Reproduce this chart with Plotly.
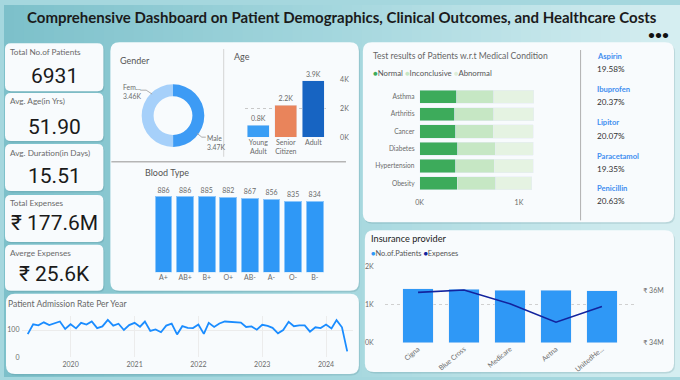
import plotly.graph_objects as go
import pandas as pd

W, H = 680, 380
def X(px): return px / W
def Y(py): return 1 - py / H

# ---------------- data ----------------
kpi_labels = ["Total No.of Patients", "Avg. Age(in Yrs)", "Avg. Duration(in Days)", "Total Expenses", "Averge Expenses"]
kpi_values = ["6931", "51.90", "15.51", "₹ 177.6M", "₹ 25.6K"]

gender_labels = ["Female", "Male"]
gender_counts = [3462, 3469]

age_groups = ["Young<br>Adult", "Senior<br>Citizen", "Adult"]
age_counts = [814, 2205, 3912]

blood_types = ["A+", "AB+", "B+", "O+", "AB-", "A-", "O-", "B-"]
blood_counts = [886, 886, 885, 882, 867, 856, 835, 834]

conditions = ["Asthma", "Arthritis", "Cancer", "Diabetes", "Hypertension", "Obesity"]
normal = [376, 352, 366, 383, 366, 379]
inconclusive = [372, 396, 376, 379, 386, 386]
abnormal = [403, 403, 402, 382, 392, 366]

medications = ["Aspirin", "Ibuprofen", "Lipitor", "Paracetamol", "Penicillin"]
med_share = [19.58, 20.37, 20.07, 19.35, 20.63]

insurers = ["Cigna", "Blue Cross", "Medicare", "Aetna", "UnitedHe..."]
ins_patients = [1410, 1405, 1380, 1370, 1366]
ins_expenses = [35.94e6, 36.03e6, 35.50e6, 34.79e6, 35.40e6]

months = pd.date_range("2019-05-01", periods=61, freq="MS")
admissions = [85, 121, 117, 128, 118, 124, 131, 104,
              121, 106, 126, 120, 131, 107, 113, 137, 116, 123, 100, 118,
              126, 112, 131, 97, 102, 92, 116, 123, 84, 114, 108, 107,
              120, 86, 126, 111, 124, 131, 129, 128, 127, 111, 113, 101,
              119, 115, 108, 88, 100, 130, 114, 117, 117, 94, 110, 107,
              120, 106, 136, 110, 22]
year_ticks = ["2020", "2021", "2022", "2023", "2024"]

# ---------------- styles ----------------
FONT = "Lato"
BLUE = "#2f98f6"
GRAY = "#6b6b6b"

fig = go.Figure()

# Gender donut
fig.add_trace(go.Pie(labels=gender_labels, values=gender_counts, hole=0.62, sort=False,
                     direction="counterclockwise", rotation=0, textinfo="none",
                     marker=dict(colors=["#3d9bf5", "#a6d0fa"]), showlegend=False,
                     domain=dict(x=[X(138), X(202)], y=[Y(145), Y(81)]), hoverinfo="label+value"))

# Age bars
fig.add_trace(go.Bar(x=age_groups, y=age_counts, xaxis="x", yaxis="y", width=0.8,
                     marker=dict(color=["#3a9ef5", "#e9845b", "#1764c2"]),
                     text=[f"{v/1000:.1f}K" for v in age_counts], textposition="outside",
                     textfont=dict(size=7, color=GRAY), cliponaxis=False, showlegend=False))

# Blood type bars
fig.add_trace(go.Bar(x=blood_types, y=blood_counts, xaxis="x2", yaxis="y2", width=0.78,
                     marker=dict(color=BLUE, line=dict(color="#8cc6fb", width=1)),
                     text=blood_counts, textposition="outside",
                     textfont=dict(size=7, color=GRAY), cliponaxis=False, showlegend=False))

# Test results stacked bars
for name, vals, col in [("Normal", normal, "#3dab5b"), ("Inconclusive", inconclusive, "#c6e7c4"),
                        ("Abnormal", abnormal, "#e5f3e2")]:
    fig.add_trace(go.Bar(y=conditions, x=vals, orientation="h", xaxis="x3", yaxis="y3",
                         width=0.76, marker=dict(color=col), name=name, showlegend=False))

# Insurance
fig.add_trace(go.Bar(x=insurers, y=ins_patients, xaxis="x4", yaxis="y4", width=0.67,
                     marker=dict(color=BLUE), name="No.of.Patients", showlegend=False))
fig.add_trace(go.Scatter(x=insurers, y=ins_expenses, xaxis="x4", yaxis="y5", mode="lines",
                         line=dict(color="#12239e", width=1.6), name="Expenses", showlegend=False))

# Admissions line
fig.add_trace(go.Scatter(x=months, y=admissions, xaxis="x5", yaxis="y6", mode="lines",
                         line=dict(color="#1a8cff", width=1.8), showlegend=False))

tickf = dict(family=FONT, size=7, color=GRAY)
fig.update_layout(
    width=W, height=H, autosize=False, margin=dict(l=0, r=0, t=0, b=0),
    paper_bgcolor="#a5d7de", plot_bgcolor="rgba(0,0,0,0)",
    font=dict(family=FONT, color="#333"), barmode="stack",
    xaxis=dict(domain=[X(242), X(325)], anchor="y", showgrid=False, zeroline=False,
               showline=False, ticks="", tickfont=tickf, fixedrange=True),
    yaxis=dict(domain=[Y(135), Y(76)], anchor="x", range=[0, 4000], side="right",
               tickvals=[0, 2000, 4000], ticktext=["0K", "2K", "4K"], showgrid=True,
               griddash="dot", gridcolor="#c8c8c8", zeroline=False, tickfont=tickf,
               ticklabelstandoff=12),
    xaxis2=dict(domain=[X(149.6), X(323.4)], anchor="y2", showgrid=False, zeroline=False,
                ticks="", tickfont=tickf),
    yaxis2=dict(domain=[Y(273), Y(186)], anchor="x2", range=[0, 1000], visible=False),
    xaxis3=dict(domain=[X(418), X(538)], anchor="y3", range=[0, 1200], tickvals=[0, 1000],
                ticktext=["0K", "1K"], showgrid=False, zeroline=False, tickfont=tickf,
                ticklabelstandoff=5),
    yaxis3=dict(domain=[Y(191), Y(85)], anchor="x3", autorange="reversed", showgrid=False,
                ticks="", tickfont=dict(family=FONT, size=6.6, color=GRAY), ticklabelstandoff=4),
    xaxis4=dict(domain=[X(383), X(637)], anchor="y4", range=[-0.724, 4.768], tickangle=-40,
                showgrid=False, zeroline=False, ticks="", tickfont=tickf),
    yaxis4=dict(domain=[Y(345), Y(267)], anchor="x4", range=[0, 2000], tickvals=[0, 1000, 2000],
                ticktext=["0K", "1K", "2K"], showgrid=True, griddash="dot", gridcolor="#d0d0d0",
                zeroline=False, tickfont=tickf, ticklabelstandoff=10),
    yaxis5=dict(overlaying="y4", anchor="x4", side="right", range=[34e6, 36.943e6],
                tickvals=[34e6, 36e6], ticktext=["₹ 34M", "₹ 36M"], showgrid=False,
                zeroline=False, tickfont=tickf, ticklabelstandoff=5),
    xaxis5=dict(domain=[X(18.6), X(350.7)], anchor="y6", type="date",
                range=["2019-04-01", "2024-06-01"], tickvals=[f"{y}-01-01" for y in year_ticks],
                ticktext=year_ticks, showgrid=True, gridcolor="#ececec", zeroline=False,
                tickfont=tickf, ticklabelstandoff=2),
    yaxis6=dict(domain=[Y(360), Y(318)], anchor="x5", range=[0, 150], tickvals=[0, 100],
                showgrid=True, gridcolor="#ececec", zeroline=False, tickfont=tickf,
                ticklabelstandoff=2),
)

shapes = []
# background gradient strips
def lerp(c1, c2, t):
    return "#%02x%02x%02x" % tuple(int(round(c1[i] + (c2[i] - c1[i]) * t)) for i in range(3))
stops = [(0, (124, 192, 202)), (340, (165, 215, 222)), (680, (214, 238, 241))]
n = 68
for i in range(n):
    x0 = i * W / n; x1 = (i + 1) * W / n; xc = (x0 + x1) / 2
    if xc <= 340:
        col = lerp(stops[0][1], stops[1][1], xc / 340)
    else:
        col = lerp(stops[1][1], stops[2][1], (xc - 340) / 340)
    shapes.append(dict(type="rect", xref="paper", yref="paper", x0=X(x0), x1=X(x1) + 0.002,
                       y0=0, y1=1, fillcolor=col, line=dict(width=0), layer="below"))

def rrect(x0, y0, x1, y1, r, fill, line=None):
    rx, ry = r / W, r / H
    a0, a1 = X(x0), X(x1)
    b0, b1 = Y(y0), Y(y1)
    p = (f"M {a0+rx},{b0} L {a1-rx},{b0} Q {a1},{b0} {a1},{b0-ry} "
         f"L {a1},{b1+ry} Q {a1},{b1} {a1-rx},{b1} L {a0+rx},{b1} Q {a0},{b1} {a0},{b1+ry} "
         f"L {a0},{b0-ry} Q {a0},{b0} {a0+rx},{b0} Z")
    return dict(type="path", xref="paper", yref="paper", path=p, fillcolor=fill,
                line=dict(width=0) if line is None else line, layer="below")

cards = [(1, 39, 100, 88, 6), (1, 90, 100, 139, 6), (1, 142, 100, 190, 6), (1, 194, 100, 242, 6),
         (1, 245, 100, 292, 6), (107, 38, 357, 292, 9), (361, 38, 674, 222, 9),
         (363, 230, 674, 375, 9), (2, 295, 357, 377, 9)]
for (a, b, c, d, r) in cards:
    shapes.append(rrect(a + 1, b + 1.5, c + 1, d + 1.5, r, "rgba(60,110,120,0.18)"))
    shapes.append(rrect(a, b, c, d, r, "#f8fbfd"))

# dividers
shapes.append(dict(type="line", xref="paper", yref="paper", x0=X(221), x1=X(221), y0=Y(45), y1=Y(155),
                   line=dict(color="#d4d4d4", width=1)))
shapes.append(dict(type="line", xref="paper", yref="paper", x0=X(108), x1=X(344), y0=Y(160), y1=Y(160),
                   line=dict(color="#b5b5b5", width=1.5)))
shapes.append(dict(type="line", xref="paper", yref="paper", x0=X(580), x1=X(580), y0=Y(46), y1=Y(220),
                   line=dict(color="#b0b0b0", width=1)))
# donut leader lines
shapes.append(dict(type="path", xref="paper", yref="paper",
                   path=f"M {X(137)},{Y(87)} L {X(143)},{Y(87)} L {X(149)},{Y(91)}",
                   line=dict(color="#999", width=0.8)))
shapes.append(dict(type="path", xref="paper", yref="paper",
                   path=f"M {X(194)},{Y(131)} L {X(199)},{Y(135)} L {X(203)},{Y(135)}",
                   line=dict(color="#999", width=0.8)))
fig.update_layout(shapes=shapes)

ann = []
def text(x, y, s, size=10, color="#333", xa="left", ya="middle", family=FONT, align="left"):
    ann.append(dict(x=X(x), y=Y(y), xref="paper", yref="paper", text=s, showarrow=False,
                    xanchor=xa, yanchor=ya, align=align, borderpad=0,
                    font=dict(size=size, color=color, family=family)))

text(340, 12, "<b>Comprehensive Dashboard on Patient Demographics, Clinical Outcomes, and Healthcare Costs</b>",
     size=15, color="#1b1b1b", xa="center")
text(658, 30, "<b>•••</b>", size=12, color="#111", xa="center")

label_y = [48, 98, 151, 202, 253]
value_y = [73, 125, 175, 223, 275]
for lab, val, ly, vy in zip(kpi_labels, kpi_values, label_y, value_y):
    text(5, ly, lab, size=8.2, color="#6a6a6a")
    text(51, vy, val, size=21, color="#1a1a1a", xa="center", family="Roboto")

text(116, 57, "Gender", size=9, color="#555")
text(230, 53, "Age", size=9, color="#555")
text(141, 171, "Blood Type", size=9, color="#555")
text(119, 88, f"Fem...<br>{gender_counts[0]/1000:.2f}K", size=6.8, color=GRAY, xa="left")
text(203, 140, f"{gender_labels[1]}<br>{gender_counts[1]/1000:.2f}K", size=6.8, color=GRAY, xa="left")

text(370, 52, "Test results of Patients w.r.t Medical Condition", size=8.6, color="#666")
text(370, 69, "<span style='color:#3dab5b'>●</span>Normal <span style='color:#c6e7c4'>●</span>Inconclusive "
              "<span style='color:#ddefda'>●</span>Abnormal", size=7.8, color="#555")
name_y = [52, 86, 120, 154, 187]
for m, s, ny in zip(medications, med_share, name_y):
    text(595, ny, f"<b>{m}</b>", size=7.6, color="#3f8ef0")
    text(595, ny + 13.5, f"{s:.2f}%", size=8.2, color="#333")

text(368, 239, "Insurance provider", size=9.2, color="#222")
text(368, 254, f"<span style='color:{BLUE}'>●</span>No.of.Patients <span style='color:#12239e'>●</span>Expenses",
     size=7.4, color="#555")

text(3, 305, "Patient Admission Rate Per Year", size=8.5, color="#666")
fig.update_layout(annotations=ann)

fig.write_html("out.html", config={"displayModeBar": False},
               post_script="document.body.style.margin='0';document.body.style.overflow='hidden';")
